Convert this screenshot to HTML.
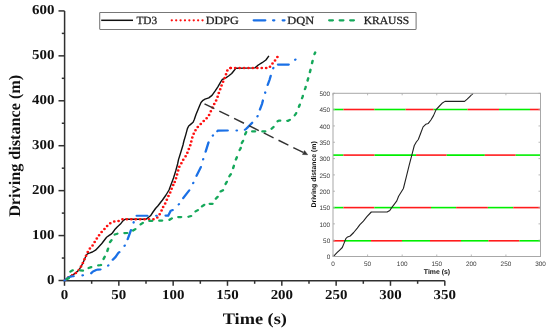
<!DOCTYPE html><html><head><meta charset="utf-8"><style>html,body{margin:0;padding:0;background:#fff;width:550px;height:330px;overflow:hidden}svg{display:block;text-rendering:geometricPrecision}</style></head><body>
<svg width="550" height="330" viewBox="0 0 550 330">
<rect width="550" height="330" fill="#fff"/>
<g stroke="#303030" stroke-width="1.5" fill="none">
<path d="M64.6 10.9V280.8H444.8"/>
<path d="M58.5 280.50H64.6"/>
<path d="M58.5 235.57H64.6"/>
<path d="M58.5 190.64H64.6"/>
<path d="M58.5 145.71H64.6"/>
<path d="M58.5 100.78H64.6"/>
<path d="M58.5 55.85H64.6"/>
<path d="M58.5 10.92H64.6"/>
<path d="M61.8 258.04H64.6"/>
<path d="M61.8 213.11H64.6"/>
<path d="M61.8 168.18H64.6"/>
<path d="M61.8 123.25H64.6"/>
<path d="M61.8 78.31H64.6"/>
<path d="M61.8 33.39H64.6"/>
<path d="M64.50 280.8V285.8"/>
<path d="M118.83 280.8V285.8"/>
<path d="M173.16 280.8V285.8"/>
<path d="M227.49 280.8V285.8"/>
<path d="M281.82 280.8V285.8"/>
<path d="M336.15 280.8V285.8"/>
<path d="M390.48 280.8V285.8"/>
<path d="M444.81 280.8V285.8"/>
<path d="M91.66 280.8V283.8"/>
<path d="M146.00 280.8V283.8"/>
<path d="M200.32 280.8V283.8"/>
<path d="M254.66 280.8V283.8"/>
<path d="M308.99 280.8V283.8"/>
<path d="M363.31 280.8V283.8"/>
<path d="M417.64 280.8V283.8"/>
</g>
<g font-family="Liberation Serif, serif" font-weight="bold" font-size="13.7" fill="#111">
<text transform="translate(54.4 283.80) scale(1.09 1)" text-anchor="end">0</text>
<text transform="translate(54.4 238.87) scale(1.09 1)" text-anchor="end">100</text>
<text transform="translate(54.4 193.94) scale(1.09 1)" text-anchor="end">200</text>
<text transform="translate(54.4 149.01) scale(1.09 1)" text-anchor="end">300</text>
<text transform="translate(54.4 104.08) scale(1.09 1)" text-anchor="end">400</text>
<text transform="translate(54.4 59.15) scale(1.09 1)" text-anchor="end">500</text>
<text transform="translate(54.4 14.22) scale(1.09 1)" text-anchor="end">600</text>
<text transform="translate(64.50 299.1) scale(1.09 1)" text-anchor="middle">0</text>
<text transform="translate(118.83 299.1) scale(1.09 1)" text-anchor="middle">50</text>
<text transform="translate(173.16 299.1) scale(1.09 1)" text-anchor="middle">100</text>
<text transform="translate(227.49 299.1) scale(1.09 1)" text-anchor="middle">150</text>
<text transform="translate(281.82 299.1) scale(1.09 1)" text-anchor="middle">200</text>
<text transform="translate(336.15 299.1) scale(1.09 1)" text-anchor="middle">250</text>
<text transform="translate(390.48 299.1) scale(1.09 1)" text-anchor="middle">300</text>
<text transform="translate(444.81 299.1) scale(1.09 1)" text-anchor="middle">350</text>
</g>
<text transform="translate(254.8 323.9) scale(1.145 1)" text-anchor="middle" font-family="Liberation Serif, serif" font-weight="bold" font-size="16" fill="#111">Time (s)</text>
<text transform="translate(19.5 145.8) rotate(-90)" text-anchor="middle" font-family="Liberation Serif, serif" font-weight="bold" font-size="16.2" fill="#111">Driving distance (m)</text>
<polyline points="64.5,280.5 68.0,277.5 71.3,275.7 75.7,273.1 78.9,270.0 81.5,265.8 83.4,262.0 84.7,258.8 86.5,254.7 88.0,253.5 90.0,252.9 92.4,252.0 95.5,250.2 97.9,247.7 100.9,244.6 102.2,243.0 104.1,240.5 106.6,237.3 109.2,235.4 111.1,234.1 112.4,233.0 114.6,229.8 117.2,227.0 120.4,224.1 122.9,220.9 125.1,219.3 146.0,219.3 150.5,215.8 153.0,212.0 155.5,208.5 158.0,205.7 160.5,202.5 162.5,200.0 166.0,195.0 169.0,190.0 170.9,185.0 173.5,178.0 175.7,171.0 177.6,164.0 178.5,159.6 180.5,153.3 183.0,145.0 183.9,141.0 185.8,134.6 187.4,128.6 188.7,126.0 190.9,124.1 193.1,122.2 194.3,119.5 196.0,114.5 199.5,106.0 201.0,102.5 203.0,100.3 205.0,99.2 208.8,97.9 212.0,95.4 215.2,90.9 217.7,87.1 220.3,82.6 222.2,79.5 225.4,78.2 228.6,76.0 231.7,73.5 234.3,70.3 235.9,68.2 255.0,67.9 258.3,65.0 262.1,62.7 265.9,60.0 268.9,55.8" fill="none" stroke="#111" stroke-width="1.4" stroke-linejoin="round"/>
<g transform="scale(1.12 1)">
<polyline points="57.59,280.5 60.71,277.5 63.66,275.7 67.59,273.1 70.45,270.0 72.77,265.8 74.46,262.0 75.62,258.8 77.23,254.7 79.46,249.5 82.14,246.5 84.11,242.7 85.71,240.0 87.41,236.6 89.73,233.5 91.96,230.1 94.64,227.8 96.43,224.5 99.55,222.7 102.95,221.2 106.61,221.0 109.46,219.3 110.71,219.3 113.30,219.3" fill="none" stroke="#ff1010" stroke-width="2.5" stroke-linecap="round" stroke-dasharray="0 3.95" stroke-dashoffset="3.10"/>
<polyline points="113.30,219.3 137.14,219.3 138.93,218.6 140.62,217.4 142.68,214.0 144.20,210.8 145.62,207.0 147.32,203.8 148.75,200.3 150.00,197.0 151.79,193.0 153.12,189.0 154.46,185.5 155.98,182.0" fill="none" stroke="#ff1010" stroke-width="2.5" stroke-linecap="round" stroke-dasharray="0 3.95" stroke-dashoffset="0.00"/>
<polyline points="155.98,182.0 157.14,178.3 158.04,174.5 159.02,170.8 160.00,167.0 161.70,163.8 163.39,160.0 165.36,157.1 166.96,153.8 168.21,150.0 169.64,146.4 170.54,142.6 171.34,138.8 172.41,135.1 174.02,131.5 175.54,128.0 178.30,125.2 180.71,122.2 183.39,119.7 185.71,116.5 187.50,113.5 188.84,109.5 190.36,106.0 191.88,102.7 193.57,99.2 194.64,95.6 195.62,91.9 196.96,88.2 198.12,84.4 199.55,80.8 200.89,77.2 202.05,73.5 203.21,69.8 204.91,68.1 206.07,68.0" fill="none" stroke="#ff1010" stroke-width="2.5" stroke-linecap="round" stroke-dasharray="0 3.95" stroke-dashoffset="0.00"/>
<polyline points="206.07,68.0 240.18,68.0 241.43,66.4 243.66,63.1 245.98,59.8 248.21,56.2" fill="none" stroke="#ff1010" stroke-width="2.5" stroke-linecap="round" stroke-dasharray="0 3.95" stroke-dashoffset="0.00"/>
</g>
<g transform="scale(1.12 1)">
<polyline points="57.59,280.5 58.48,279.8 61.34,277.3 64.73,276.3 68.21,276.0 71.43,275.6 75.00,275.2 78.57,274.8 80.71,274.1" fill="none" stroke="#1a70e6" stroke-width="2.1" stroke-linecap="round" stroke-dasharray="9.6 7.85 0.4 7.85" stroke-dashoffset="0.01"/>
<polyline points="80.71,274.1 82.95,271.5 85.80,270.0 87.50,269.6 90.18,269.4 92.86,268.0 95.98,266.4 98.21,263.5 100.00,260.5" fill="none" stroke="#1a70e6" stroke-width="2.1" stroke-linecap="round" stroke-dasharray="9.6 7.85 0.4 7.85" stroke-dashoffset="24.65"/>
<polyline points="100.00,260.5 103.12,257.0 105.62,252.9 106.70,252.1 109.64,248.0 111.16,246.0 113.66,240.2" fill="none" stroke="#1a70e6" stroke-width="2.1" stroke-linecap="round" stroke-dasharray="9.6 7.85 0.4 7.85" stroke-dashoffset="24.65"/>
<polyline points="113.66,240.2 116.96,230.0 118.75,223.8 120.09,220.5 120.98,215.8" fill="none" stroke="#1a70e6" stroke-width="2.1" stroke-linecap="round" stroke-dasharray="9.6 7.85 0.4 7.85" stroke-dashoffset="24.65"/>
<polyline points="120.98,215.8 133.04,215.8 146.79,215.6" fill="none" stroke="#1a70e6" stroke-width="2.1" stroke-linecap="round" stroke-dasharray="9.6 7.85 0.4 7.85" stroke-dashoffset="24.65"/>
<polyline points="146.79,215.6 150.18,215.6 152.41,210.8 154.73,209.9 158.12,206.0 159.82,204.1 162.95,199.0" fill="none" stroke="#1a70e6" stroke-width="2.1" stroke-linecap="round" stroke-dasharray="9.6 7.85 0.4 7.85" stroke-dashoffset="24.65"/>
<polyline points="162.95,199.0 169.20,190.0 172.32,183.5 175.00,176.8" fill="none" stroke="#1a70e6" stroke-width="2.1" stroke-linecap="round" stroke-dasharray="9.6 7.85 0.4 7.85" stroke-dashoffset="24.65"/>
<polyline points="175.00,176.8 179.55,166.6 181.25,159.8 183.30,152.7" fill="none" stroke="#1a70e6" stroke-width="2.1" stroke-linecap="round" stroke-dasharray="9.6 7.85 0.4 7.85" stroke-dashoffset="24.65"/>
<polyline points="183.30,152.7 186.16,142.5 187.95,139.0 189.29,136.6 191.52,133.3 193.30,132.0" fill="none" stroke="#1a70e6" stroke-width="2.1" stroke-linecap="round" stroke-dasharray="9.6 7.85 0.4 7.85" stroke-dashoffset="24.65"/>
<polyline points="193.30,132.0 194.64,130.6 217.86,130.4" fill="none" stroke="#1a70e6" stroke-width="2.1" stroke-linecap="round" stroke-dasharray="9.6 7.85 0.4 7.85" stroke-dashoffset="24.65"/>
<polyline points="217.86,130.4 219.64,129.0 221.25,127.2 222.32,126.0 225.45,122.4 228.57,118.0 229.82,116.6 231.70,110.6" fill="none" stroke="#1a70e6" stroke-width="2.1" stroke-linecap="round" stroke-dasharray="9.6 7.85 0.4 7.85" stroke-dashoffset="24.65"/>
<polyline points="231.70,110.6 233.93,104.0 235.71,96.0 237.14,91.5 238.66,86.0" fill="none" stroke="#1a70e6" stroke-width="2.1" stroke-linecap="round" stroke-dasharray="9.6 7.85 0.4 7.85" stroke-dashoffset="24.65"/>
<polyline points="238.66,86.0 240.62,80.0 241.96,75.0 243.04,70.0 244.29,67.6 247.14,64.6" fill="none" stroke="#1a70e6" stroke-width="2.1" stroke-linecap="round" stroke-dasharray="9.6 7.85 0.4 7.85" stroke-dashoffset="24.65"/>
<polyline points="247.14,64.6 259.11,64.6 262.77,60.5 264.64,58.7" fill="none" stroke="#1a70e6" stroke-width="2.1" stroke-linecap="round" stroke-dasharray="9.6 7.85 0.4 7.85" stroke-dashoffset="24.65"/>
</g>
<g transform="scale(1.12 1)">
<polyline points="57.59,280.5 59.37,279.3 61.34,278.2 61.79,274.5 61.96,272.2" fill="none" stroke="#15a85a" stroke-width="2.2" stroke-linecap="round" stroke-dasharray="2.5 6.7" stroke-dashoffset="6.86"/>
<polyline points="61.96,272.2 64.73,270.3 70.45,270.3" fill="none" stroke="#15a85a" stroke-width="2.2" stroke-linecap="round" stroke-dasharray="2.5 6.7" stroke-dashoffset="8.10"/>
<polyline points="70.45,270.3 74.46,270.6 78.12,268.4" fill="none" stroke="#15a85a" stroke-width="2.2" stroke-linecap="round" stroke-dasharray="2.5 6.7" stroke-dashoffset="8.10"/>
<polyline points="78.12,268.4 82.41,266.8 86.34,265.5 86.62,265.5" fill="none" stroke="#15a85a" stroke-width="2.2" stroke-linecap="round" stroke-dasharray="2.5 6.7" stroke-dashoffset="8.10"/>
<polyline points="86.62,265.5 90.18,265.0 91.34,262.0 91.96,260.0" fill="none" stroke="#15a85a" stroke-width="2.2" stroke-linecap="round" stroke-dasharray="2.5 6.7" stroke-dashoffset="8.10"/>
<polyline points="91.96,260.0 93.57,256.6 95.45,252.1" fill="none" stroke="#15a85a" stroke-width="2.2" stroke-linecap="round" stroke-dasharray="2.5 6.7" stroke-dashoffset="8.10"/>
<polyline points="95.45,252.1 96.87,247.6 97.59,243.1" fill="none" stroke="#15a85a" stroke-width="2.2" stroke-linecap="round" stroke-dasharray="2.5 6.7" stroke-dashoffset="8.10"/>
<polyline points="97.59,243.1 100.18,239.2 101.16,235.0 101.40,234.9" fill="none" stroke="#15a85a" stroke-width="2.2" stroke-linecap="round" stroke-dasharray="2.5 6.7" stroke-dashoffset="8.10"/>
<polyline points="101.40,234.9 105.45,233.5 107.14,233.2 110.00,233.1" fill="none" stroke="#15a85a" stroke-width="2.2" stroke-linecap="round" stroke-dasharray="2.5 6.7" stroke-dashoffset="8.10"/>
<polyline points="110.00,233.1 114.02,233.0 117.86,231.1" fill="none" stroke="#15a85a" stroke-width="2.2" stroke-linecap="round" stroke-dasharray="2.5 6.7" stroke-dashoffset="8.10"/>
<polyline points="117.86,231.1 121.87,228.5 124.64,225.0" fill="none" stroke="#15a85a" stroke-width="2.2" stroke-linecap="round" stroke-dasharray="2.5 6.7" stroke-dashoffset="8.10"/>
<polyline points="124.64,225.0 128.12,222.5 132.32,220.9" fill="none" stroke="#15a85a" stroke-width="2.2" stroke-linecap="round" stroke-dasharray="2.5 6.7" stroke-dashoffset="8.10"/>
<polyline points="132.32,220.9 141.16,220.7" fill="none" stroke="#15a85a" stroke-width="2.2" stroke-linecap="round" stroke-dasharray="2.5 6.7" stroke-dashoffset="8.10"/>
<polyline points="141.16,220.7 145.54,220.6 150.45,220.4" fill="none" stroke="#15a85a" stroke-width="2.2" stroke-linecap="round" stroke-dasharray="2.5 6.7" stroke-dashoffset="8.10"/>
<polyline points="150.45,220.4 153.84,218.1 158.12,217.1" fill="none" stroke="#15a85a" stroke-width="2.2" stroke-linecap="round" stroke-dasharray="2.5 6.7" stroke-dashoffset="8.10"/>
<polyline points="158.12,217.1 167.23,217.1" fill="none" stroke="#15a85a" stroke-width="2.2" stroke-linecap="round" stroke-dasharray="2.5 6.7" stroke-dashoffset="8.10"/>
<polyline points="167.23,217.1 171.16,215.9 173.66,212.0" fill="none" stroke="#15a85a" stroke-width="2.2" stroke-linecap="round" stroke-dasharray="2.5 6.7" stroke-dashoffset="8.10"/>
<polyline points="173.66,212.0 176.79,210.0 179.46,207.0" fill="none" stroke="#15a85a" stroke-width="2.2" stroke-linecap="round" stroke-dasharray="2.5 6.7" stroke-dashoffset="8.10"/>
<polyline points="179.46,207.0 182.14,205.0 186.16,203.8" fill="none" stroke="#15a85a" stroke-width="2.2" stroke-linecap="round" stroke-dasharray="2.5 6.7" stroke-dashoffset="8.10"/>
<polyline points="186.16,203.8 190.18,203.8 191.96,199.5" fill="none" stroke="#15a85a" stroke-width="2.2" stroke-linecap="round" stroke-dasharray="2.5 6.7" stroke-dashoffset="8.10"/>
<polyline points="191.96,199.5 194.64,196.5 195.98,192.0" fill="none" stroke="#15a85a" stroke-width="2.2" stroke-linecap="round" stroke-dasharray="2.5 6.7" stroke-dashoffset="8.10"/>
<polyline points="195.98,192.0 199.55,190.0 200.89,185.0" fill="none" stroke="#15a85a" stroke-width="2.2" stroke-linecap="round" stroke-dasharray="2.5 6.7" stroke-dashoffset="8.10"/>
<polyline points="200.89,185.0 202.68,181.5 204.20,177.2" fill="none" stroke="#15a85a" stroke-width="2.2" stroke-linecap="round" stroke-dasharray="2.5 6.7" stroke-dashoffset="8.10"/>
<polyline points="204.20,177.2 206.43,173.7 207.86,169.2" fill="none" stroke="#15a85a" stroke-width="2.2" stroke-linecap="round" stroke-dasharray="2.5 6.7" stroke-dashoffset="8.10"/>
<polyline points="207.86,169.2 209.02,165.1 210.18,160.6" fill="none" stroke="#15a85a" stroke-width="2.2" stroke-linecap="round" stroke-dasharray="2.5 6.7" stroke-dashoffset="8.10"/>
<polyline points="210.18,160.6 211.79,156.5 213.39,151.0" fill="none" stroke="#15a85a" stroke-width="2.2" stroke-linecap="round" stroke-dasharray="2.5 6.7" stroke-dashoffset="8.10"/>
<polyline points="213.39,151.0 214.82,148.5 215.36,144.0" fill="none" stroke="#15a85a" stroke-width="2.2" stroke-linecap="round" stroke-dasharray="2.5 6.7" stroke-dashoffset="8.10"/>
<polyline points="215.36,144.0 217.41,140.2 218.48,135.4" fill="none" stroke="#15a85a" stroke-width="2.2" stroke-linecap="round" stroke-dasharray="2.5 6.7" stroke-dashoffset="8.10"/>
<polyline points="218.48,135.4 219.91,131.8 221.87,131.4 224.11,131.4" fill="none" stroke="#15a85a" stroke-width="2.2" stroke-linecap="round" stroke-dasharray="2.5 6.7" stroke-dashoffset="8.10"/>
<polyline points="224.11,131.4 233.21,131.4" fill="none" stroke="#15a85a" stroke-width="2.2" stroke-linecap="round" stroke-dasharray="2.5 6.7" stroke-dashoffset="8.10"/>
<polyline points="233.21,131.4 237.77,131.4 241.70,129.5" fill="none" stroke="#15a85a" stroke-width="2.2" stroke-linecap="round" stroke-dasharray="2.5 6.7" stroke-dashoffset="8.10"/>
<polyline points="241.70,129.5 245.18,126.0 246.87,121.8" fill="none" stroke="#15a85a" stroke-width="2.2" stroke-linecap="round" stroke-dasharray="2.5 6.7" stroke-dashoffset="8.10"/>
<polyline points="246.87,121.8 249.11,120.6 255.45,120.8" fill="none" stroke="#15a85a" stroke-width="2.2" stroke-linecap="round" stroke-dasharray="2.5 6.7" stroke-dashoffset="8.10"/>
<polyline points="255.45,120.8 257.14,120.8 259.82,119.2 262.59,116.2" fill="none" stroke="#15a85a" stroke-width="2.2" stroke-linecap="round" stroke-dasharray="2.5 6.7" stroke-dashoffset="8.10"/>
<polyline points="262.59,116.2 264.29,113.5 265.89,109.5 266.48,108.0" fill="none" stroke="#15a85a" stroke-width="2.2" stroke-linecap="round" stroke-dasharray="2.5 6.7" stroke-dashoffset="8.10"/>
<polyline points="266.48,108.0 267.41,105.5 268.75,101.0 269.32,99.3" fill="none" stroke="#15a85a" stroke-width="2.2" stroke-linecap="round" stroke-dasharray="2.5 6.7" stroke-dashoffset="8.10"/>
<polyline points="269.32,99.3 270.09,97.0 271.43,92.0 271.94,90.3" fill="none" stroke="#15a85a" stroke-width="2.2" stroke-linecap="round" stroke-dasharray="2.5 6.7" stroke-dashoffset="8.10"/>
<polyline points="271.94,90.3 272.77,87.5 274.11,82.5 274.31,81.7" fill="none" stroke="#15a85a" stroke-width="2.2" stroke-linecap="round" stroke-dasharray="2.5 6.7" stroke-dashoffset="8.10"/>
<polyline points="274.31,81.7 275.27,78.0 276.34,73.5 276.42,73.2" fill="none" stroke="#15a85a" stroke-width="2.2" stroke-linecap="round" stroke-dasharray="2.5 6.7" stroke-dashoffset="8.10"/>
<polyline points="276.42,73.2 277.41,69.0 278.30,64.5 278.34,64.3" fill="none" stroke="#15a85a" stroke-width="2.2" stroke-linecap="round" stroke-dasharray="2.5 6.7" stroke-dashoffset="8.10"/>
<polyline points="278.34,64.3 279.20,60.5 280.09,56.0 280.38,55.2" fill="none" stroke="#15a85a" stroke-width="2.2" stroke-linecap="round" stroke-dasharray="2.5 6.7" stroke-dashoffset="8.10"/>
<polyline points="280.38,55.2 281.43,52.5" fill="none" stroke="#15a85a" stroke-width="2.2" stroke-linecap="round" stroke-dasharray="2.5 6.7" stroke-dashoffset="8.10"/>
</g>
<rect x="99.7" y="12.4" width="316.4" height="17" rx="0.6" fill="#fff" stroke="#777" stroke-width="1.05"/>
<path d="M101.2 20.3H133" stroke="#111" stroke-width="1.5"/>
<path d="M171.8 20.3H203" stroke="#ff1010" stroke-width="2.3" stroke-linecap="round" stroke-dasharray="0 4.39"/>
<path d="M253.7 20.3H284.5" stroke="#1a70e6" stroke-width="2.3" stroke-linecap="round" stroke-dasharray="11.6 7.8 1.2 8.4"/>
<path d="M329.2 20.3H360.5" stroke="#15a85a" stroke-width="2.3" stroke-linecap="round" stroke-dasharray="3.7 6.8"/>
<g font-family="Liberation Serif, serif" font-size="11" fill="#1a1a1a" stroke="#1a1a1a" stroke-width="0.25">
<text transform="translate(136.4 24.4) scale(1.03 1)">TD3</text>
<text transform="translate(205.8 24.4) scale(1.10 1)">DDPG</text>
<text transform="translate(287.3 24.4) scale(1.13 1)">DQN</text>
<text transform="translate(363.7 24.4) scale(1.05 1)">KRAUSS</text>
</g>
<path d="M204.5 103.8L304.2 152.9" stroke="#333" stroke-width="1.45" stroke-dasharray="11 5.5" fill="none"/>
<path d="M307.7 154.7L302.5 154.5L304.5 150.6Z" fill="#333" stroke="#333" stroke-width="0.5" stroke-linejoin="round"/>
<path d="M333 109.5H343.4" stroke="#00ee00" stroke-width="1.6"/>
<path d="M343.4 109.5H374.4" stroke="#ff1c1c" stroke-width="1.6"/>
<path d="M374.4 109.5H405.6" stroke="#00ee00" stroke-width="1.6"/>
<path d="M405.6 109.5H433.6" stroke="#ff1c1c" stroke-width="1.6"/>
<path d="M433.6 109.5H467.6" stroke="#00ee00" stroke-width="1.6"/>
<path d="M467.6 109.5H499" stroke="#ff1c1c" stroke-width="1.6"/>
<path d="M499 109.5H530" stroke="#00ee00" stroke-width="1.6"/>
<path d="M530 109.5H540.5" stroke="#ff1c1c" stroke-width="1.6"/>
<path d="M333 155.1H343.4" stroke="#00ee00" stroke-width="1.6"/>
<path d="M343.4 155.1H374.6" stroke="#ff1c1c" stroke-width="1.6"/>
<path d="M374.6 155.1H416" stroke="#00ee00" stroke-width="1.6"/>
<path d="M416 155.1H446.7" stroke="#ff1c1c" stroke-width="1.6"/>
<path d="M446.7 155.1H484.8" stroke="#00ee00" stroke-width="1.6"/>
<path d="M484.8 155.1H515.7" stroke="#ff1c1c" stroke-width="1.6"/>
<path d="M515.7 155.1H540.5" stroke="#00ee00" stroke-width="1.6"/>
<path d="M333 207.6H343.4" stroke="#00ee00" stroke-width="1.6"/>
<path d="M343.4 207.6H374.4" stroke="#ff1c1c" stroke-width="1.6"/>
<path d="M374.4 207.6H400" stroke="#00ee00" stroke-width="1.6"/>
<path d="M400 207.6H431" stroke="#ff1c1c" stroke-width="1.6"/>
<path d="M431 207.6H456.1" stroke="#00ee00" stroke-width="1.6"/>
<path d="M456.1 207.6H487.9" stroke="#ff1c1c" stroke-width="1.6"/>
<path d="M487.9 207.6H513.2" stroke="#00ee00" stroke-width="1.6"/>
<path d="M513.2 207.6H540.5" stroke="#ff1c1c" stroke-width="1.6"/>
<path d="M333 240.8H344" stroke="#ff1c1c" stroke-width="1.6"/>
<path d="M344 240.8H371" stroke="#00ee00" stroke-width="1.6"/>
<path d="M371 240.8H402" stroke="#ff1c1c" stroke-width="1.6"/>
<path d="M402 240.8H430" stroke="#00ee00" stroke-width="1.6"/>
<path d="M430 240.8H461" stroke="#ff1c1c" stroke-width="1.6"/>
<path d="M461 240.8H488.5" stroke="#00ee00" stroke-width="1.6"/>
<path d="M488.5 240.8H519.5" stroke="#ff1c1c" stroke-width="1.6"/>
<path d="M519.5 240.8H540.5" stroke="#00ee00" stroke-width="1.6"/>
<polyline points="333.5,256.3 337.0,252.7 339.7,250.1 342.3,247.5 344.1,243.1 345.8,238.7 347.6,236.9 350.2,236.0 353.7,232.5 357.3,228.1 359.9,224.6 363.4,221.1 366.9,216.7 371.3,212.0 387.1,212.0 389.8,210.5 391.5,207.9 394.2,204.4 396.8,200.9 398.6,196.2 403.4,188.5 406.3,176.8 409.2,165.2 412.2,153.6 414.3,145.5 416.3,142.0 418.3,139.5 420.5,133.8 423.1,126.9 425.7,124.3 428.3,123.4 430.9,120.0 433.5,115.6 436.1,109.6 439.5,106.0 442.0,103.3 445.0,101.4 464.6,101.4 467.2,99.2 469.8,96.6 471.5,94.9 473.2,93.3" fill="none" stroke="#222" stroke-width="1.1" stroke-linejoin="round"/>
<rect x="333.0" y="93.3" width="207.5" height="163.2" fill="none" stroke="#a8a8a8" stroke-width="1"/>
<g stroke="#a8a8a8" stroke-width="0.8">
<path d="M333.0 256.50h2M540.5 256.50h-2"/>
<path d="M333.0 240.18h2M540.5 240.18h-2"/>
<path d="M333.0 223.86h2M540.5 223.86h-2"/>
<path d="M333.0 207.54h2M540.5 207.54h-2"/>
<path d="M333.0 191.22h2M540.5 191.22h-2"/>
<path d="M333.0 174.90h2M540.5 174.90h-2"/>
<path d="M333.0 158.58h2M540.5 158.58h-2"/>
<path d="M333.0 142.26h2M540.5 142.26h-2"/>
<path d="M333.0 125.94h2M540.5 125.94h-2"/>
<path d="M333.0 109.62h2M540.5 109.62h-2"/>
<path d="M333.0 93.30h2M540.5 93.30h-2"/>
<path d="M333.00 256.5v-2M333.00 93.3v2"/>
<path d="M367.58 256.5v-2M367.58 93.3v2"/>
<path d="M402.17 256.5v-2M402.17 93.3v2"/>
<path d="M436.75 256.5v-2M436.75 93.3v2"/>
<path d="M471.33 256.5v-2M471.33 93.3v2"/>
<path d="M505.92 256.5v-2M505.92 93.3v2"/>
<path d="M540.50 256.5v-2M540.50 93.3v2"/>
</g>
<g font-family="Liberation Sans, Arial, sans-serif" font-size="6.4" fill="#3a3a3a">
<text x="330.2" y="259.30" text-anchor="end">0</text>
<text x="330.2" y="242.98" text-anchor="end">50</text>
<text x="330.2" y="226.66" text-anchor="end">100</text>
<text x="330.2" y="210.34" text-anchor="end">150</text>
<text x="330.2" y="194.02" text-anchor="end">200</text>
<text x="330.2" y="177.70" text-anchor="end">250</text>
<text x="330.2" y="161.38" text-anchor="end">300</text>
<text x="330.2" y="145.06" text-anchor="end">350</text>
<text x="330.2" y="128.74" text-anchor="end">400</text>
<text x="330.2" y="112.42" text-anchor="end">450</text>
<text x="330.2" y="96.10" text-anchor="end">500</text>
<text x="333.00" y="265.6" text-anchor="middle">0</text>
<text x="367.58" y="265.6" text-anchor="middle">50</text>
<text x="402.17" y="265.6" text-anchor="middle">100</text>
<text x="436.75" y="265.6" text-anchor="middle">150</text>
<text x="471.33" y="265.6" text-anchor="middle">200</text>
<text x="505.92" y="265.6" text-anchor="middle">250</text>
<text x="540.50" y="265.6" text-anchor="middle">300</text>
</g>
<text x="437" y="274.4" text-anchor="middle" font-family="Liberation Sans, Arial, sans-serif" font-weight="bold" font-size="6.9" fill="#111">Time (s)</text>
<text transform="translate(316.4 174.4) rotate(-90)" text-anchor="middle" font-family="Liberation Sans, Arial, sans-serif" font-weight="bold" font-size="6.9" fill="#111">Driving distance (m)</text>
</svg></body></html>
